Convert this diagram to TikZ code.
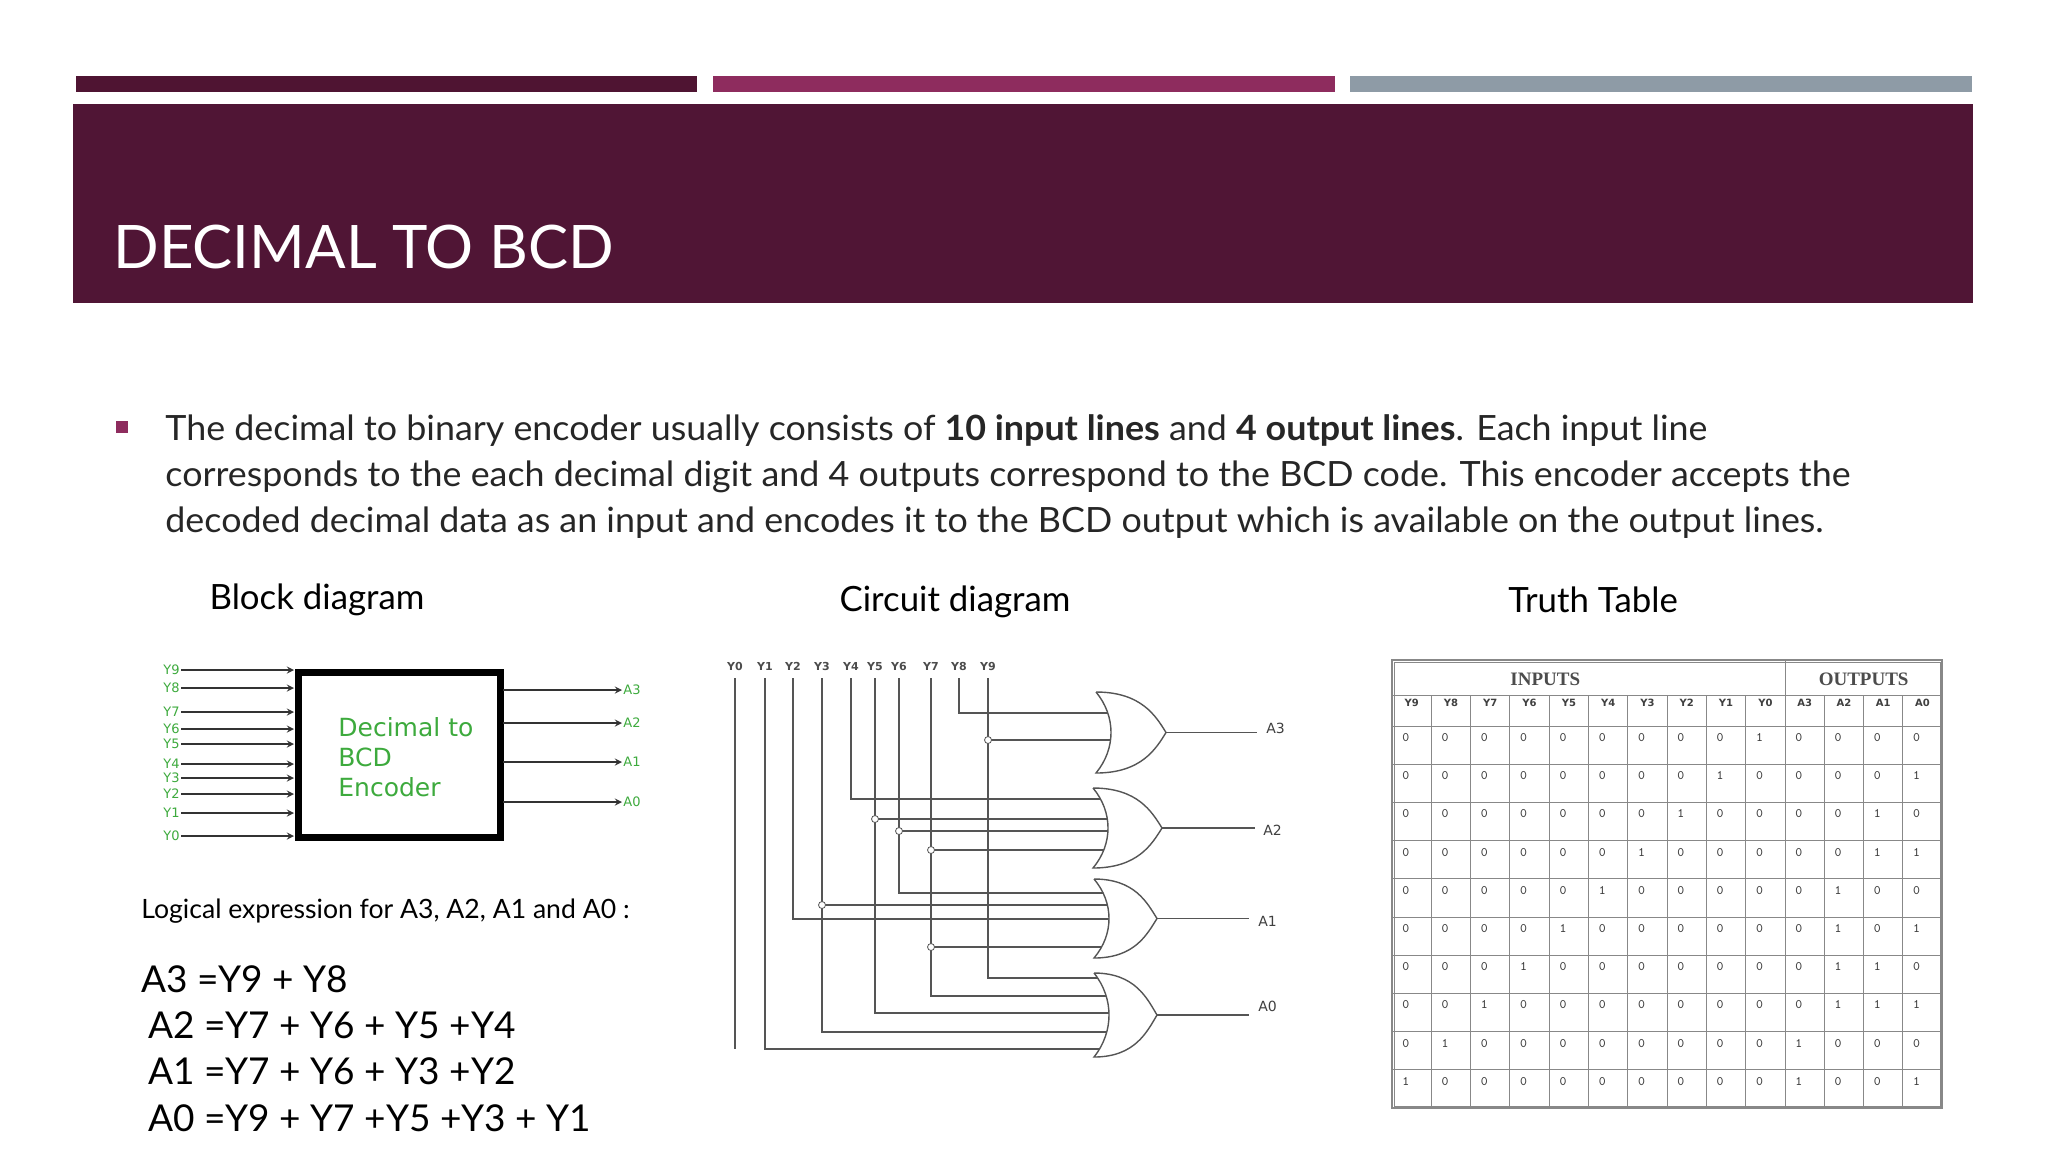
\documentclass[tikz,border=0pt]{standalone}
\usepackage{fontspec}
\setmainfont{Lato}
\newfontfamily\dv{DejaVu Sans}
\newfontfamily\tabfont{Liberation Serif}
\definecolor{hdr}{HTML}{501535}
\definecolor{barA}{HTML}{4F1432}
\definecolor{barB}{HTML}{8E2C5E}
\definecolor{barC}{HTML}{8E9BA6}
\definecolor{grn}{HTML}{3DAA3D}
\definecolor{wire}{HTML}{555555}
\definecolor{grid}{HTML}{888888}
\begin{document}
\begin{tikzpicture}[x=0.5pt,y=-0.5pt,
  body/.style={anchor=base west,inner sep=0,font=\fontsize{17.4}{20}\selectfont,text=black!85,xscale=1.03},
  lbl/.style={anchor=base,inner sep=0,font=\fontsize{17.4}{20}\selectfont},
  eq/.style={anchor=base west,inner sep=0,font=\fontsize{18.5}{22}\selectfont},
  inl/.style={anchor=east,inner sep=0.5pt,font=\dv\fontsize{6.5}{7}\selectfont,text=grn},
  outl/.style={anchor=west,inner sep=0.5pt,font=\dv\fontsize{6.5}{7}\selectfont,text=grn},
  barr/.style={->,>=stealth,draw=black!80,line width=0.6pt},
  w/.style={draw=wire,line width=0.6pt},
  gate/.style={draw=wire,line width=0.7pt,fill=white},
  dotc/.style={circle,draw=wire,fill=white,inner sep=0,minimum size=3.5pt,line width=0.4pt},
  yl/.style={anchor=base,inner sep=0,font=\dv\bfseries\fontsize{5.5}{6}\selectfont,text=black!70},
  al/.style={anchor=west,inner sep=0,font=\dv\fontsize{7}{8}\selectfont,text=black!75},
  cell/.style={inner sep=0,font=\ttfamily\fontsize{6.5}{7}\selectfont,text=black!75},
  th/.style={inner sep=0,font=\tabfont\bfseries\fontsize{9.5}{10}\selectfont,text=black!70},
  ch/.style={inner sep=0,font=\dv\bfseries\fontsize{5}{6}\selectfont,text=black!75}]
\useasboundingbox (0,0) rectangle (2048,1152);
\fill[white] (0,0) rectangle (2048,1152);
% top bars and header
\fill[barA] (76,76) rectangle (697,92);
\fill[barB] (713,76) rectangle (1335,92);
\fill[barC] (1350,76) rectangle (1972,92);
\fill[hdr] (73,104) rectangle (1973,303);
\node[anchor=base west,inner sep=0,text=white,font=\fontsize{30}{34}\selectfont] (title) at (113,268) {DECIMAL TO BCD};
% bullet text
\fill[barB] (116,421) rectangle (128,433);
\node[body] (l1) at (165,440) {The decimal to binary encoder usually consists of \textbf{10 input lines} and \textbf{4 output lines}. Each input line};
\node[body] (l2) at (165,486) {corresponds to the each decimal digit and 4 outputs correspond to the BCD code. This encoder accepts the};
\node[body] (l3) at (165,532) {decoded decimal data as an input and encodes it to the BCD output which is available on the output lines.};
\node[lbl] (bd) at (317,609) {Block diagram};
\node[lbl] (cd) at (955,611) {Circuit diagram};
\node[lbl] (tt) at (1593,612) {Truth Table};
% block diagram
\draw[line width=3.5pt] (298,672) rectangle (500,837);
\foreach \n/\y in {9/670,8/688,7/712,6/729,5/744,4/764,3/778,2/794,1/813,0/836}{
  \node[inl] (y\n) at (181,\y) {Y\n};
  \coordinate (e\n) at (294,\y);
  \draw[barr] (y\n.east) -- (e\n);
}
\foreach \n/\y in {3/690,2/723,1/762,0/802}{
  \coordinate (s\n) at (503,\y);
  \node[outl] (a\n) at (622,\y) {A\n};
  \draw[barr] (s\n) -- (a\n.west);
}
\node[anchor=base west,inner sep=0,text=grn,font=\dv\fontsize{12.5}{14}\selectfont] (bt1) at (338,736) {Decimal to};
\node[anchor=base west,inner sep=0,text=grn,font=\dv\fontsize{12.5}{14}\selectfont] (bt2) at (338,766) {BCD};
\node[anchor=base west,inner sep=0,text=grn,font=\dv\fontsize{12.5}{14}\selectfont] (bt3) at (338,796) {Encoder};
\node[anchor=base west,inner sep=0,font=\fontsize{13.3}{15}\selectfont] (le) at (141,918) {Logical expression for A3, A2, A1 and A0 :};
\node[eq] (q1) at (141,992) {A3 =Y9 + Y8};
\node[eq] (q2) at (148,1038) {A2 =Y7 + Y6 + Y5 +Y4};
\node[eq] (q3) at (148,1084) {A1 =Y7 + Y6 + Y3 +Y2};
\node[eq] (q4) at (148,1131) {A0 =Y9 + Y7 +Y5 +Y3 + Y1};
% circuit diagram
\foreach \n/\x in {0/735,1/765,2/793,3/822,4/851,5/875,6/899,7/931,8/959,9/988}{
  \node[yl] (c\n) at (\x,670) {Y\n};
  \coordinate (t\n) at (\x,678);
}
\draw[w] (t8) |- (1110,713);
\draw[w] (t4) |- (1110,799);
\draw[w] (t6) |- (1110,893);
\draw[w] (t2) |- (1110,919);
\draw[w] (t9) |- (1110,978);
\draw[w] (t7) |- (1110,996);
\draw[w] (t5) |- (1110,1013);
\draw[w] (t3) |- (1110,1032);
\draw[w] (t1) |- (1110,1049);
\draw[w] (t0) -- (735,1049);
\foreach \x/\y in {988/740,875/819,899/831,931/850,822/905,931/947}{
  \draw[w] (\x,\y) -- (1110,\y);
  \node[dotc] at (\x,\y) {};
}
\newcommand{\orgate}[4]{% back x, top, bottom, tip x
  \draw[gate] (#1,#2) .. controls ({#1+0.65*(#4-#1)},#2) and ({#4-10},{#2+0.3*(#3-#2)}) .. (#4,{(#2+#3)/2})
    .. controls ({#4-10},{#3-0.3*(#3-#2)}) and ({#1+0.65*(#4-#1)},#3) .. (#1,#3)
    .. controls ({#1+20},{#3-0.3*(#3-#2)}) and ({#1+20},{#2+0.3*(#3-#2)}) .. (#1,#2);}
\orgate{1096}{692}{773}{1166}
\orgate{1093}{788}{868}{1162}
\orgate{1094}{879}{958}{1157}
\orgate{1094}{973}{1057}{1157}
\draw[w] (1166,732.5) -- (1257,732.5); \node[al] (o3) at (1266,728) {A3};
\draw[w] (1162,828) -- (1255,828); \node[al] (o2) at (1263,830) {A2};
\draw[w] (1157,918.5) -- (1249,918.5); \node[al] (o1) at (1258,921) {A1};
\draw[w] (1157,1015) -- (1249,1015); \node[al] (o0) at (1258,1006) {A0};
% truth table
\def\cw{39.3}
\draw[grid,line width=0.8pt] (1392,660) rectangle (1942,1108);
\draw[grid,line width=0.5pt] (1394,662) rectangle (1940,1106);
\draw[grid,line width=0.5pt] (1392,695) -- (1942,695);
\draw[grid,line width=0.5pt] (1392,726) -- (1942,726);
\foreach \i in {1,...,9}{\draw[grid,line width=0.5pt] (1392,{726+\i*38.2}) -- (1942,{726+\i*38.2});}
\foreach \c in {1,...,13}{\draw[grid,line width=0.5pt] ({1392+\c*\cw},{\c==10?660:695}) -- ({1392+\c*\cw},1108);}
\node[th] (hin) at ({1392+3.9*\cw},679) {INPUTS};
\node[th] (hout) at ({1392+12*\cw},679) {OUTPUTS};
\foreach \lab [count=\c from 0] in {Y9,Y8,Y7,Y6,Y5,Y4,Y3,Y2,Y1,Y0,A3,A2,A1,A0}{
  \node[ch] at ({1392+(\c+0.5)*\cw},703) {\lab};
}
\foreach \r in {0,...,9}{
  \foreach \c in {0,...,9}{
    \pgfmathtruncatemacro{\v}{(9-\c)==\r ? 1 : 0}
    \node[cell] at ({1392+(\c+0.35)*\cw},{726+(\r+0.3)*38.2}) {\v};
  }
  \foreach \b in {0,...,3}{
    \pgfmathtruncatemacro{\v}{mod(floor(\r/(2^(3-\b))),2)}
    \node[cell] at ({1392+(\b+10.35)*\cw},{726+(\r+0.3)*38.2}) {\v};
  }
}
\end{tikzpicture}
\end{document}
